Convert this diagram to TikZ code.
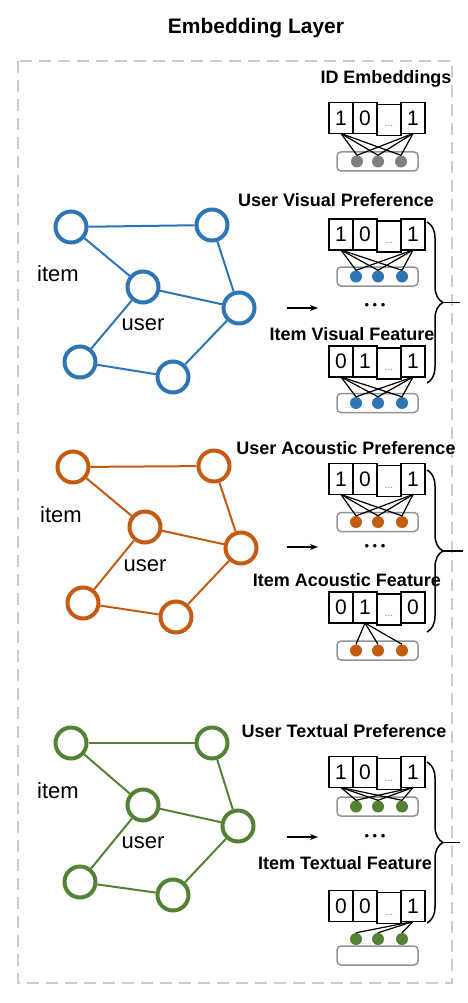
\documentclass[tikz,border=0pt]{standalone}
\usepackage{fontspec}
\setmainfont{Liberation Sans}
\usepackage{xcolor}
\usetikzlibrary{positioning,decorations.pathreplacing,arrows.meta}

\definecolor{visblue}{HTML}{2E75B6}
\definecolor{acorange}{HTML}{C55A11}
\definecolor{txgreen}{HTML}{548235}

\begin{document}
\begin{tikzpicture}[x=1pt,y=-1pt,>={Stealth[length=8pt,width=6pt]},
    gnode/.style={circle, draw, line width=4pt, minimum size=31pt, inner sep=0pt},
    gedge/.style={line width=2pt},
    cell/.style={rectangle, draw, line width=1.5pt, minimum width=24pt, minimum height=31pt, inner sep=0pt, outer sep=0pt, font=\fontsize{21}{21}\selectfont},
    dotcell/.style={cell, font=\fontsize{10}{10}\selectfont, text=gray},
    pool/.style={rectangle, rounded corners=4pt, draw=gray!85, line width=1.5pt, minimum width=81pt, minimum height=19pt, inner sep=0pt},
    unit/.style={circle, minimum size=12pt, inner sep=0pt},
    wire/.style={line width=1.2pt},
    lbl/.style={font=\bfseries\fontsize{18}{18}\selectfont, anchor=base},
    word/.style={font=\fontsize{22}{22}\selectfont, anchor=base},
    more/.style={font=\fontsize{13}{13}\selectfont},
    brc/.style={decorate, decoration={brace, amplitude=16pt}, line width=1.5pt}]
    \useasboundingbox (0,0) rectangle (467,1003);

    \node [font=\bfseries\fontsize{21}{21}\selectfont, anchor=base](title) at (256,34){Embedding Layer};
    \draw [gray!40, line width=2pt, dash pattern=on 12pt off 7pt] (18,61) rectangle (452,983);

    % ID embeddings
    \node [lbl](idl) at (386,84){ID Embeddings};
    \node [cell](id1) at (341,118){1};
    \node [cell, right=0pt of id1](id2){0};
    \node [dotcell, right=0pt of id2, yshift=-2pt](id3){\raisebox{-7pt}[0pt][0pt]{...}};
    \node [cell, right=0pt of id3, yshift=2pt](id4){1};
    \node [pool](idr) at (377.5,161.5){};
    \node [unit, fill=gray](idd1) at (357,161.5){};
    \node [unit, fill=gray](idd2) at (378,161.5){};
    \node [unit, fill=gray](idd3) at (401,161.5){};
    \path [wire]
        (id1.south) edge (idd1.north) edge (idd2.north) edge (idd3.north)
        (id4.south) edge (idd1.north) edge (idd2.north) edge (idd3.north);

    % visual graph
    \node [gnode, draw=visblue](b1) at (71,227){};
    \node [gnode, draw=visblue](b2) at (212,225){};
    \node [gnode, draw=visblue](b3) at (143,287){};
    \node [gnode, draw=visblue](b4) at (239,308){};
    \node [gnode, draw=visblue](b5) at (80,362){};
    \node [gnode, draw=visblue](b6) at (173,377){};
    \path [gedge, visblue]
        (b1) edge (b2)
        (b1) edge (b3)
        (b3) edge (b4)
        (b2) edge (b4)
        (b3) edge (b5)
        (b5) edge (b6)
        (b6) edge (b4);
    \node [word](bitem) at (58,281){item};
    \node [word](buser) at (143,330){user};

    \node [lbl](vul) at (336,206){User Visual Preference};
    \node [cell](vu1) at (341,234.5){1};
    \node [cell, right=0pt of vu1](vu2){0};
    \node [dotcell, right=0pt of vu2, yshift=-2pt](vu3){\raisebox{-7pt}[0pt][0pt]{...}};
    \node [cell, right=0pt of vu3, yshift=2pt](vu4){1};
    \node [pool](vur) at (377.5,276.5){};
    \node [unit, fill=visblue](vud1) at (356,276.5){};
    \node [unit, fill=visblue](vud2) at (378,276.5){};
    \node [unit, fill=visblue](vud3) at (402,276.5){};
    \path [wire]
        (vu1.south) edge (vud1.north) edge (vud2.north) edge (vud3.north)
        (vu4.south) edge (vud1.north) edge (vud2.north) edge (vud3.north);

    \coordinate (ba1) at (287,308);
    \coordinate (ba2) at (318,308);
    \draw [->, line width=1.5pt] (ba1) -- (ba2);
    \node [more](bdots) at (375,306){\textbullet\hspace{3.5pt}\textbullet\hspace{3.5pt}\textbullet};

    \node [lbl](vil) at (352,340.5){Item Visual Feature};
    \node [cell](vi1) at (341,361.5){0};
    \node [cell, right=0pt of vi1](vi2){1};
    \node [dotcell, right=0pt of vi2, yshift=-2pt](vi3){\raisebox{-7pt}[0pt][0pt]{...}};
    \node [cell, right=0pt of vi3, yshift=2pt](vi4){1};
    \node [pool](vir) at (377.5,403){};
    \node [unit, fill=visblue](vid1) at (356,403){};
    \node [unit, fill=visblue](vid2) at (378,403){};
    \node [unit, fill=visblue](vid3) at (402,403){};
    \path [wire]
        (vi1.south) edge (vid1.north) edge (vid2.north) edge (vid3.north)
        (vi4.south) edge (vid1.north) edge (vid2.north) edge (vid3.north);

    \coordinate (bt) at (427,222);
    \coordinate (bb) at (427,383);
    \coordinate (bm) at (443,302.5);
    \coordinate (bo) at (460,302.5);
    \draw [brc] (bt) -- (bb);
    \draw [line width=1.5pt] (bm) -- (bo);

    % acoustic graph
    \node [gnode, draw=acorange](o1) at (73,467){};
    \node [gnode, draw=acorange](o2) at (214,466){};
    \node [gnode, draw=acorange](o3) at (145,527){};
    \node [gnode, draw=acorange](o4) at (241,548){};
    \node [gnode, draw=acorange](o5) at (83,603){};
    \node [gnode, draw=acorange](o6) at (176,617){};
    \path [gedge, acorange]
        (o1) edge (o2)
        (o1) edge (o3)
        (o3) edge (o4)
        (o2) edge (o4)
        (o3) edge (o5)
        (o5) edge (o6)
        (o6) edge (o4);
    \node [word](oitem) at (61,522){item};
    \node [word](ouser) at (145,571){user};

    \node [lbl](aul) at (346,454.5){User Acoustic Preference};
    \node [cell](au1) at (341,479){1};
    \node [cell, right=0pt of au1](au2){0};
    \node [dotcell, right=0pt of au2, yshift=-2pt](au3){\raisebox{-7pt}[0pt][0pt]{...}};
    \node [cell, right=0pt of au3, yshift=2pt](au4){1};
    \node [pool](aur) at (377.5,522){};
    \node [unit, fill=acorange](aud1) at (356,522){};
    \node [unit, fill=acorange](aud2) at (378,522){};
    \node [unit, fill=acorange](aud3) at (402,522){};
    \path [wire]
        (au1.south) edge (aud1.north) edge (aud2.north) edge (aud3.north)
        (au4.south) edge (aud1.north) edge (aud2.north) edge (aud3.north);

    \coordinate (oa1) at (287,547);
    \coordinate (oa2) at (318,547);
    \draw [->, line width=1.5pt] (oa1) -- (oa2);
    \node [more](odots) at (375,547){\textbullet\hspace{3.5pt}\textbullet\hspace{3.5pt}\textbullet};

    \node [lbl](ail) at (347,586.5){Item Acoustic Feature};
    \node [cell](ai1) at (341,607.5){0};
    \node [cell, right=0pt of ai1](ai2){1};
    \node [dotcell, right=0pt of ai2, yshift=-2pt](ai3){\raisebox{-7pt}[0pt][0pt]{...}};
    \node [cell, right=0pt of ai3, yshift=2pt](ai4){0};
    \node [pool](air) at (377.5,650.5){};
    \node [unit, fill=acorange](aid1) at (356,650.5){};
    \node [unit, fill=acorange](aid2) at (378,650.5){};
    \node [unit, fill=acorange](aid3) at (402,650.5){};
    \path [wire]
        (ai2.south) edge (aid1.north) edge (aid2.north) edge (aid3.north);

    \coordinate (ot) at (427,470);
    \coordinate (ob) at (427,632);
    \coordinate (om) at (443,551);
    \coordinate (oo) at (463,551);
    \draw [brc] (ot) -- (ob);
    \draw [line width=1.5pt] (om) -- (oo);

    % textual graph
    \node [gnode, draw=txgreen](g1) at (71,743){};
    \node [gnode, draw=txgreen](g2) at (212,743){};
    \node [gnode, draw=txgreen](g3) at (143,805){};
    \node [gnode, draw=txgreen](g4) at (238,826){};
    \node [gnode, draw=txgreen](g5) at (80,882){};
    \node [gnode, draw=txgreen](g6) at (173,895){};
    \path [gedge, txgreen]
        (g1) edge (g2)
        (g1) edge (g3)
        (g3) edge (g4)
        (g2) edge (g4)
        (g3) edge (g5)
        (g5) edge (g6)
        (g6) edge (g4);
    \node [word](gitem) at (58,798){item};
    \node [word](guser) at (143,848){user};

    \node [lbl](tul) at (344,737.5){User Textual Preference};
    \node [cell](tu1) at (341,772){1};
    \node [cell, right=0pt of tu1](tu2){0};
    \node [dotcell, right=0pt of tu2, yshift=-2pt](tu3){\raisebox{-7pt}[0pt][0pt]{...}};
    \node [cell, right=0pt of tu3, yshift=2pt](tu4){1};
    \node [pool](tur) at (377.5,806.5){};
    \node [unit, fill=txgreen](tud1) at (356,806.5){};
    \node [unit, fill=txgreen](tud2) at (378,806.5){};
    \node [unit, fill=txgreen](tud3) at (402,806.5){};
    \path [wire]
        (tu1.south) edge (tud1.north) edge (tud2.north) edge (tud3.north)
        (tu4.south) edge (tud1.north) edge (tud2.north) edge (tud3.north);

    \coordinate (ga1) at (287,837);
    \coordinate (ga2) at (318,837);
    \draw [->, line width=1.5pt] (ga1) -- (ga2);
    \node [more](gdots) at (375,837){\textbullet\hspace{3.5pt}\textbullet\hspace{3.5pt}\textbullet};

    \node [lbl](til) at (345,869.5){Item Textual Feature};
    \node [cell](ti1) at (341,906){0};
    \node [cell, right=0pt of ti1](ti2){0};
    \node [dotcell, right=0pt of ti2, yshift=-2pt](ti3){\raisebox{-7pt}[0pt][0pt]{...}};
    \node [cell, right=0pt of ti3, yshift=2pt](ti4){1};
    \node [pool](tir) at (377.5,955.5){};
    \node [unit, fill=txgreen](tid1) at (356,939){};
    \node [unit, fill=txgreen](tid2) at (378,939){};
    \node [unit, fill=txgreen](tid3) at (402,939){};
    \path [wire]
        (ti4.south) edge (tid1.north) edge (tid2.north) edge (tid3.north);

    \coordinate (gt) at (427,762);
    \coordinate (gb) at (427,923);
    \coordinate (gm) at (443,842.5);
    \coordinate (go) at (460,842.5);
    \draw [brc] (gt) -- (gb);
    \draw [line width=1.5pt] (gm) -- (go);
\end{tikzpicture}
\end{document}
